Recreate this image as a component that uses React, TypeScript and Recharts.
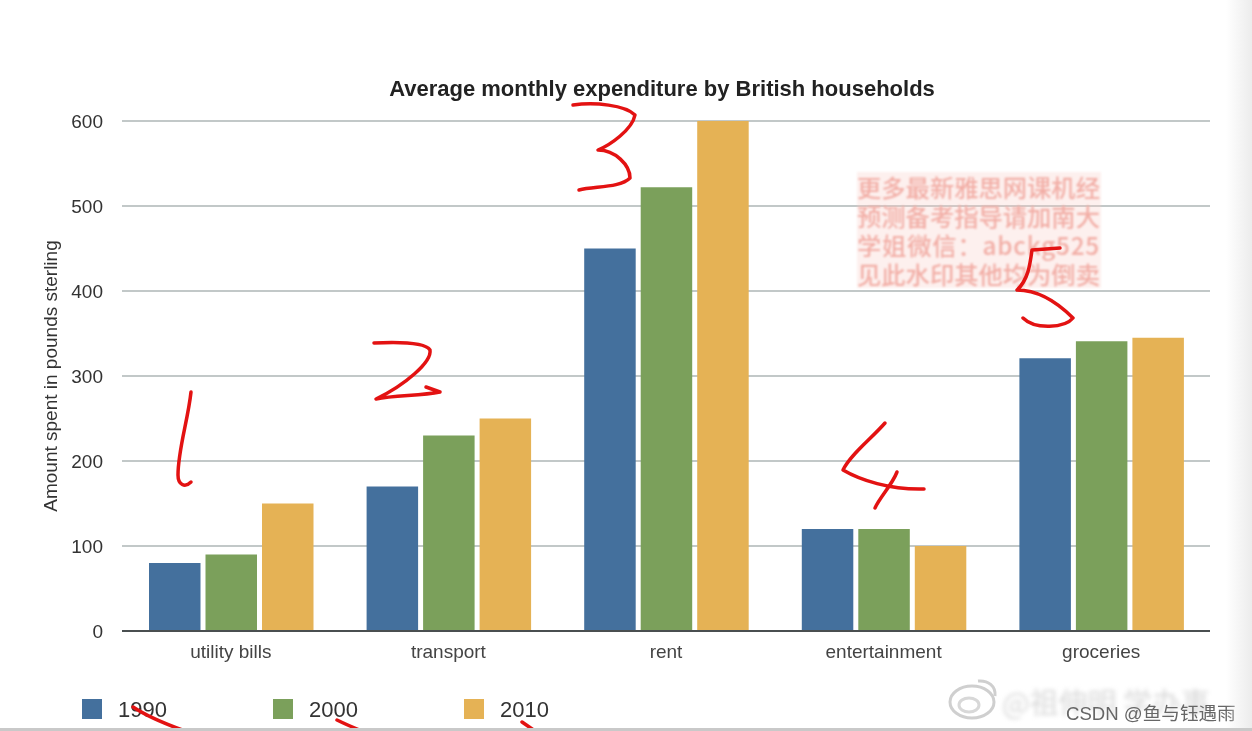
import { Bar, BarChart, CartesianGrid, XAxis, YAxis } from "recharts";

const categories = ["utility bills", "transport", "rent", "entertainment", "groceries"];
const y1990 = [80, 170, 450, 120, 321];
const y2000 = [90, 230, 522, 120, 341];
const y2010 = [150, 250, 600, 100, 345];
const yTicks = [0, 100, 200, 300, 400, 500, 600];
const seriesNames = ["1990", "2000", "2010"];
const COLORS = ["#44709d", "#7ba05b", "#e5b255"];
const watermark = ["更多最新雅思网课机经", "预测备考指导请加南大", "学姐微信：abckg525", "见此水印其他均为倒卖"];

const FONT = '"Liberation Sans", Arial, sans-serif';
const CJK = '"Noto Sans CJK SC", sans-serif';

const data = categories.map((name, i) => ({
  name,
  "1990": y1990[i],
  "2000": y2000[i],
  "2010": y2010[i],
}));

// handwritten red numbers over the chart
const scribbles = [
  "M191 392 C188 420 178 450 178 475 C178 485 185 488 191 482",
  "M374 343 C395 342 425 342 430 350 C432 362 405 385 376 399 C395 395 420 396 440 392 M426 387 L440 392",
  "M573 105 C595 102 625 105 635 115 C632 130 610 145 598 150 C615 150 630 165 630 178 C620 188 595 186 579 190",
  "M885 423 C870 440 850 455 843 470 C860 480 890 490 924 489 M875 508 C880 497 892 485 897 472",
  "M1060 248 L1032 250 C1030 265 1028 280 1017 290 C1040 290 1060 305 1073 318 C1065 328 1035 330 1023 318",
  "M133 707 C145 715 160 722 185 731 M337 720 C345 724 352 727 362 731 M522 722 L535 731",
];

export default function App() {
  return (
    <div style={{ position: "absolute", left: 0, top: 0, width: 1252, height: 731, overflow: "hidden", background: "#fff", fontFamily: FONT, filter: "blur(0.7px)" }}>
      <div style={{ position: "absolute", left: 122, width: 1080, top: 76, textAlign: "center", fontSize: 22, fontWeight: 700, color: "#222", lineHeight: "26px", whiteSpace: "nowrap" }}>
        Average monthly expenditure by British households
      </div>

      <BarChart
        width={1252}
        height={731}
        data={data}
        margin={{ top: 121, right: 42, bottom: 0, left: 0 }}
        barSize={51.5}
        barGap={5}
        style={{ position: "absolute", left: 0, top: 0 }}
      >
        <CartesianGrid vertical={false} stroke="#aeb6b6" strokeWidth={1.5} />
        <XAxis
          dataKey="name"
          height={100}
          tickLine={false}
          tickMargin={8}
          stroke="#4a4f50"
          axisLine={{ stroke: "#4a4f50", strokeWidth: 2 }}
          tick={{ fontSize: 19, fill: "#444", fontFamily: FONT }}
        />
        <YAxis
          width={122}
          domain={[0, 600]}
          ticks={yTicks}
          tickLine={false}
          axisLine={false}
          tickMargin={13}
          tick={{ fontSize: 19, fill: "#333", fontFamily: FONT }}
          label={{
            value: "Amount spent in pounds sterling",
            angle: -90,
            position: "insideLeft",
            offset: 50,
            style: { fontSize: 19, fill: "#333", fontFamily: FONT, textAnchor: "middle" },
          }}
        />
        {seriesNames.map((s, i) => (
          <Bar key={s} dataKey={s} fill={COLORS[i]} isAnimationActive={false} />
        ))}
      </BarChart>

      {seriesNames.map((s, i) => (
        <div key={s} style={{ position: "absolute", left: 82 + i * 191, top: 699, height: 20, display: "flex", alignItems: "center" }}>
          <span style={{ width: 20, height: 20, background: COLORS[i], display: "block" }} />
          <span style={{ marginLeft: 16, fontSize: 22, color: "#333", position: "relative", top: 1 }}>{s}</span>
        </div>
      ))}

      <div style={{ position: "absolute", left: 857, top: 172, width: 244, background: "rgba(248,205,200,0.3)", filter: "blur(1px)", fontFamily: CJK, fontSize: 24.3, fontWeight: 500, lineHeight: "29px", color: "#f2aea6", whiteSpace: "nowrap" }}>
        {watermark.map((t, i) => (
          <div key={t} style={{ letterSpacing: i === 2 ? 0.8 : 0 }}>{t}</div>
        ))}
      </div>

      <div style={{ position: "absolute", left: 1002, top: 680, fontFamily: CJK, fontSize: 29, color: "#d8d8d8", filter: "blur(2px)", whiteSpace: "nowrap" }}>
        @祖伸明 学办事
      </div>
      <svg width={1252} height={731} style={{ position: "absolute", left: 0, top: 0 }}>
        <ellipse cx={972} cy={702} rx={22} ry={16} fill="none" stroke="#cfcfcf" strokeWidth={3} />
        <ellipse cx={969} cy={705} rx={10} ry={7} fill="none" stroke="#d8d8d8" strokeWidth={3} />
        <path d="M978 681 C988 680 996 686 995 696" fill="none" stroke="#cfcfcf" strokeWidth={3} />
        {scribbles.map((d) => (
          <path key={d} d={d} fill="none" stroke="#e31212" strokeWidth={3.5} strokeLinecap="round" strokeLinejoin="round" />
        ))}
      </svg>
      <div style={{ position: "absolute", left: 1066, top: 698, fontFamily: `${FONT}, ${CJK}`, fontSize: 18.6, color: "#666", whiteSpace: "nowrap" }}>
        CSDN @鱼与钰遇雨
      </div>

      <div style={{ position: "absolute", left: 1226, top: 0, width: 26, height: 731, background: "linear-gradient(to right, rgba(235,235,235,0), #ececec)" }} />
      <div style={{ position: "absolute", left: 0, top: 728, width: 1252, height: 3, background: "#c9c9c9" }} />
    </div>
  );
}
